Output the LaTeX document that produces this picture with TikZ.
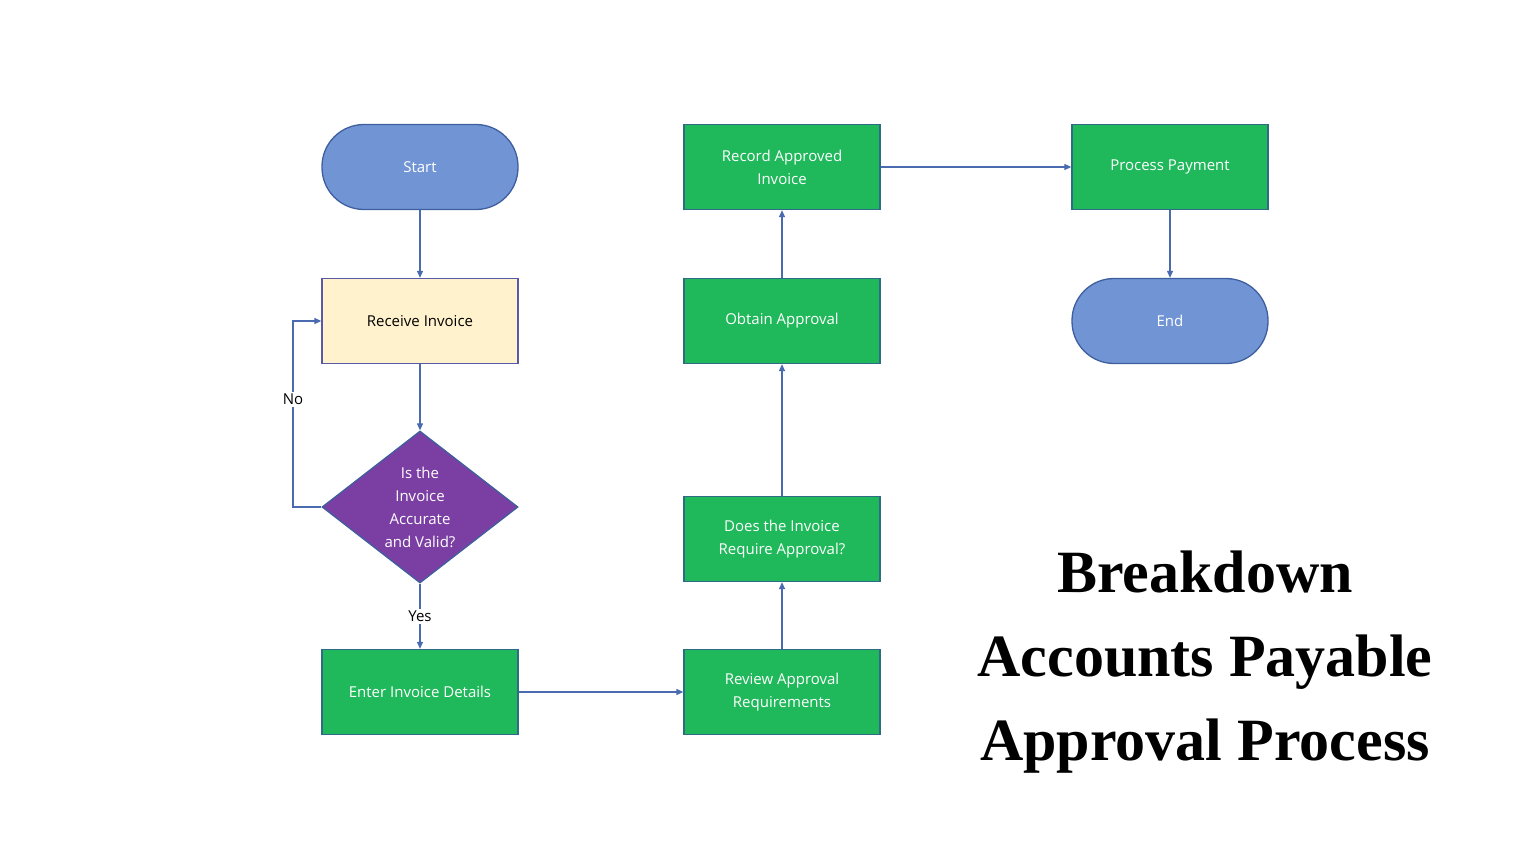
\documentclass[tikz,border=0pt]{standalone}
\usepackage{fontspec}
\setmainfont{Open Sans}
\newfontfamily\titlefont{Liberation Serif}
\usetikzlibrary{shapes.geometric,arrows.meta}
\definecolor{term}{HTML}{7094D4}
\definecolor{termb}{HTML}{3F5E9E}
\definecolor{grn}{HTML}{1FB85A}
\definecolor{grnb}{HTML}{2F6A86}
\definecolor{pur}{HTML}{7B3FA4}
\definecolor{yel}{HTML}{FFF2CC}
\definecolor{ln}{HTML}{4A6BAF}
\tikzset{
 x=1pt,y=-1pt,
 box/.style={draw=grnb,line width=1.3pt,minimum width=196pt,minimum height=85pt,align=center,font=\fontsize{15}{23}\selectfont,text=white,fill=grn},
 term/.style={box,fill=term,draw=termb,rounded corners=42pt},
 conn/.style={draw=ln,line width=1.2pt,-{Triangle[length=7pt,width=6pt]}},
}
\begin{document}
\begin{tikzpicture}
\useasboundingbox (0,0) rectangle (1536,864);
\node[term] (start) at (420,167) {Start};
\node[box,fill=yel,draw=gray!70!blue,text=black] (recv) at (420,321) {Receive Invoice};
\node[diamond,fill=pur,draw=termb,line width=1.3pt,minimum width=196pt,minimum height=152pt,inner sep=0pt,aspect=1.29,text=white,align=center,font=\fontsize{15}{23}\selectfont] (dec) at (420,507) {Is the\\Invoice\\Accurate\\and Valid?};
\node[box] (enter) at (420,692) {Enter Invoice Details};
\node[box] (review) at (782,692) {Review Approval\\Requirements};
\node[box] (does) at (782,539) {Does the Invoice\\Require Approval?};
\node[box] (obtain) at (782,321) {Obtain Approval};
\node[box] (record) at (782,167) {Record Approved\\Invoice};
\node[box] (pay) at (1170,167) {Process Payment};
\node[term] (end) at (1170,321) {End};
\draw[conn] (start) -- (recv);
\draw[conn] (recv) -- (dec);
\draw[conn] (dec) -- node[fill=white,text=black,font=\fontsize{15}{18}\selectfont,inner sep=2pt]{Yes} (enter);
\coordinate (c1) at (293,507);
\coordinate (c2) at (293,321);
\draw[conn] (dec.west) -- (c1) -- node[fill=white,text=black,font=\fontsize{15}{18}\selectfont,inner sep=2pt,pos=0.58]{No} (c2) -- (recv.west);
\draw[conn] (enter) -- (review);
\draw[conn] (review) -- (does);
\draw[conn] (does) -- (obtain);
\draw[conn] (obtain) -- (record);
\draw[conn] (record) -- (pay);
\draw[conn] (pay) -- (end);
\node[align=center,font=\titlefont\bfseries\fontsize{60}{84}\selectfont] (title) at (1205,662) {Breakdown\\Accounts Payable\\Approval Process};
\end{tikzpicture}
\end{document}
